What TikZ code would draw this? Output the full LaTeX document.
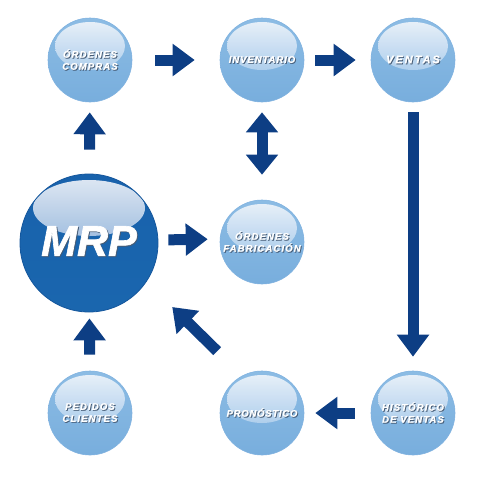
\documentclass[tikz,border=0pt]{standalone}
\usepackage{fontspec}
\setmainfont{Liberation Sans}
\usetikzlibrary{arrows.meta}
\definecolor{navy}{RGB}{13,62,132}
\definecolor{balltop}{RGB}{140,188,228}
\definecolor{ballbot}{RGB}{120,174,221}
\definecolor{balledge}{RGB}{128,178,224}
\definecolor{hltop}{RGB}{240,245,251}
\definecolor{hlbot}{RGB}{140,186,228}
\definecolor{mrptop}{RGB}{24,98,172}
\definecolor{mrpbot}{RGB}{26,102,174}
\definecolor{mrpedge}{RGB}{20,86,156}
\definecolor{mhltop}{RGB}{236,241,248}
\definecolor{mhlbot}{RGB}{96,146,204}
\definecolor{txtshadow}{RGB}{70,92,118}
\newcommand\shtxt[1]{\leavevmode\rlap{\kern0.9pt\raisebox{-0.9pt}{\color{txtshadow}#1}}#1}
\newcommand\ballfont[2]{\fontsize{#1}{12}\selectfont\bfseries\itshape\addfontfeature{LetterSpace=#2,FakeBold=1.2}}
\tikzset{
  ball/.style={circle, minimum size=84pt, inner sep=0pt, draw=balledge, line width=0.6pt,
    top color=balltop, bottom color=ballbot, text=white, align=center,
    font=\ballfont{9.5}{12},
    path picture={\shade[top color=hltop, bottom color=hlbot, opacity=0.95]
      ([yshift=14pt]path picture bounding box.center) ellipse [x radius=35pt, y radius=24pt];}},
  bigball/.style={circle, minimum size=138pt, inner sep=0pt, draw=mrpedge, line width=0.8pt,
    top color=mrptop, bottom color=mrpbot, text=white, align=center,
    font=\fontsize{43}{44}\selectfont\bfseries\itshape\addfontfeature{FakeBold=1.5},
    path picture={\shade[top color=mhltop, bottom color=mhlbot, opacity=0.95]
      ([yshift=35pt]path picture bounding box.center) ellipse [x radius=56pt, y radius=28pt];}},
  blk/.style={draw=navy, line width=11pt, -{Triangle[width=31pt,length=22pt]}},
  dblk/.style={draw=navy, line width=11pt, {Triangle[width=31pt,length=20pt]}-{Triangle[width=31pt,length=20pt]}}
}
\begin{document}
\begin{tikzpicture}[x=1pt,y=-1pt]
\useasboundingbox (0,0) rectangle (486,480);
\node[ball] (oc) at (90,60) {\shtxt{ÓRDENES}\\\shtxt{COMPRAS}};
\node[ball, font=\ballfont{9.5}{10}] (inv) at (262,60) {\shtxt{INVENTARIO}};
\node[ball, font=\ballfont{11}{18}] (ven) at (413,60) {\shtxt{VENTAS}};
\node[bigball] (mrp) at (89,243) {\raisebox{4pt}{\shtxt{MRP}}};
\node[ball] (fab) at (262,242) {\shtxt{ÓRDENES}\\\shtxt{FABRICACIÓN}};
\node[ball] (ped) at (90,413) {\shtxt{PEDIDOS}\\\shtxt{CLIENTES}};
\node[ball, font=\ballfont{9.5}{8}] (pro) at (262,413) {\shtxt{PRONÓSTICO}};
\node[ball] (his) at (413,413) {\shtxt{HISTÓRICO}\\\shtxt{DE VENTAS}};
\draw[blk, shorten <=23pt, shorten >=25pt] (oc) -- (inv);
\draw[blk, shorten <=11pt, shorten >=15pt] (inv) -- (ven);
\draw[blk, shorten <=10pt, shorten >=14pt] (ven) -- (his);
\draw[dblk, shorten <=10pt, shorten >=25pt] (inv) -- (fab);
\draw[blk, shorten <=10pt, shorten >=12pt] ([yshift=3pt]mrp.east) -- ([yshift=3pt]fab.west);
\draw[blk, shorten <=16pt, shorten >=11pt] (his) -- (pro);
\draw[blk, shorten <=35pt, shorten >=36pt] (pro.118.7) -- (mrp.-34.8);
\draw[blk, shorten <=16pt, shorten >=6pt] (ped) -- (mrp);
\draw[blk, shorten <=24pt, shorten >=10pt] (mrp) -- (oc);
\end{tikzpicture}
\end{document}
